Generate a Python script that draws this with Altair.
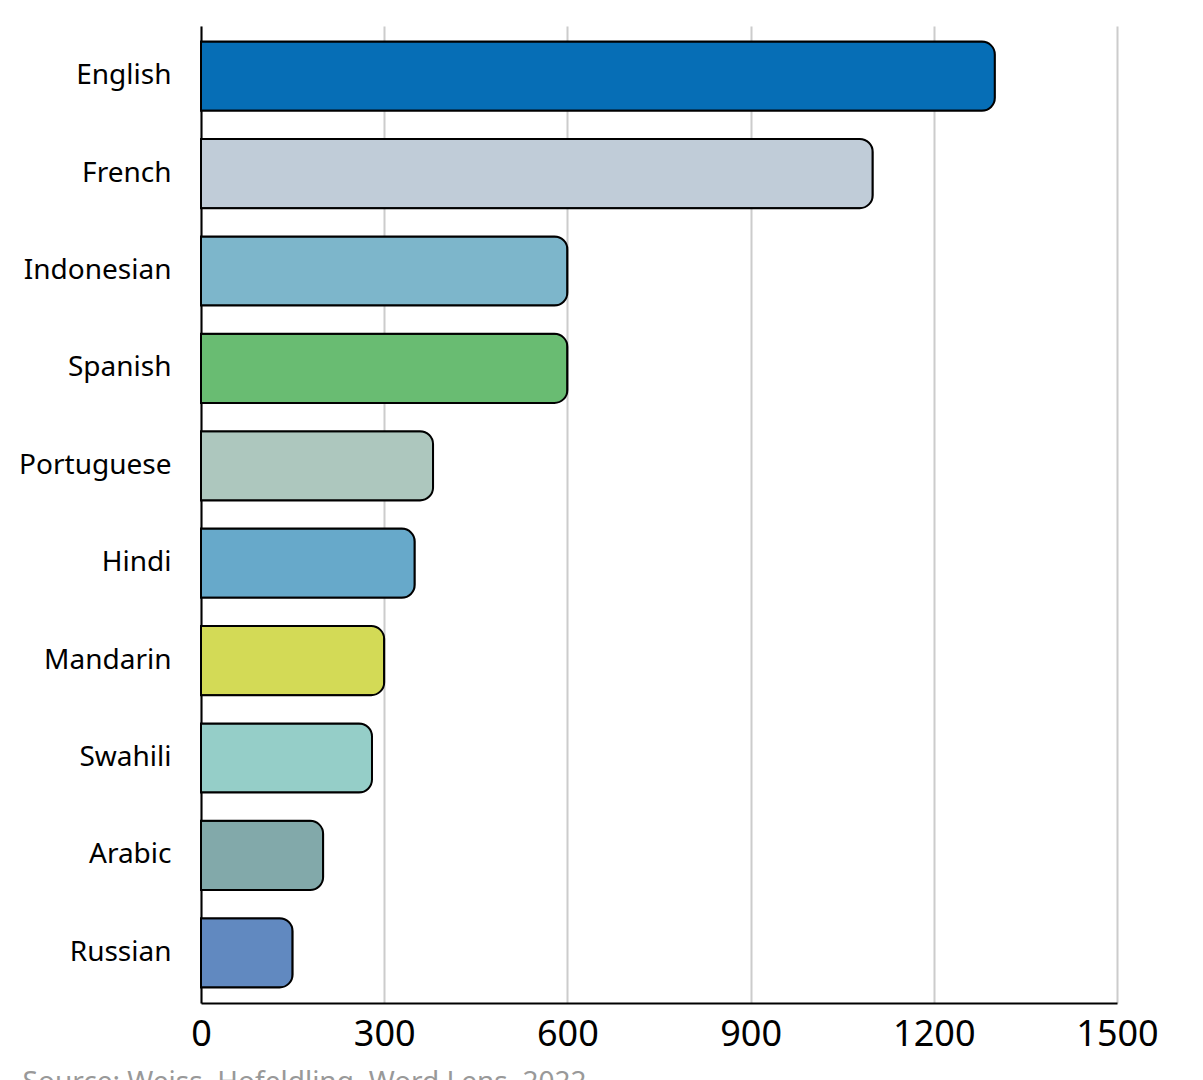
import altair as alt
import pandas as pd

languages = ["English", "French", "Indonesian", "Spanish", "Portuguese",
             "Hindi", "Mandarin", "Swahili", "Arabic", "Russian"]
values = [1300, 1100, 600, 600, 380, 350, 300, 280, 200, 150]
colors = ["#066eb6", "#c0ccd8", "#7db6cb", "#69bc72", "#adc7be",
          "#67a9ca", "#d3da56", "#95cec8", "#82a9aa", "#6189c0"]
x_ticks = [0, 300, 600, 900, 1200, 1500]
source = "Source: Weiss, Hofeldling, Word Lens, 2022"

df = pd.DataFrame({"language": languages, "value": values, "color": colors})

FONT = "Noto Sans"

chart = alt.Chart(df).mark_bar(
    stroke="black", strokeWidth=2, cornerRadiusEnd=13
).encode(
    y=alt.Y("language:N", sort=languages, title=None,
            scale=alt.Scale(paddingInner=0.29, paddingOuter=0.16),
            axis=alt.Axis(domainColor="black", domainWidth=2, ticks=False,
                          labelFontSize=28, labelFont=FONT, labelColor="black",
                          labelPadding=30, grid=False)),
    x=alt.X("value:Q", title=None,
            scale=alt.Scale(domain=[0, 1500], nice=False),
            axis=alt.Axis(values=x_ticks, format="d", domainColor="black",
                          domainWidth=2, ticks=False, labelFontSize=36,
                          labelFont=FONT, labelColor="black", labelPadding=14,
                          grid=True, gridColor="#cccccc", gridWidth=2,
                          labelFlush=False)),
    fill=alt.Fill("color:N", scale=None),
).properties(
    width=916, height=977,
    title=alt.TitleParams(source, orient="bottom", anchor="start",
                          fontSize=28, font=FONT, fontWeight="normal",
                          color="#999999", offset=17, dx=4),
    padding={"top": 18, "left": 10, "right": 5, "bottom": 5},
).configure_view(stroke=None)

chart.save("out.html", embed_options={"renderer": "svg", "actions": False})
